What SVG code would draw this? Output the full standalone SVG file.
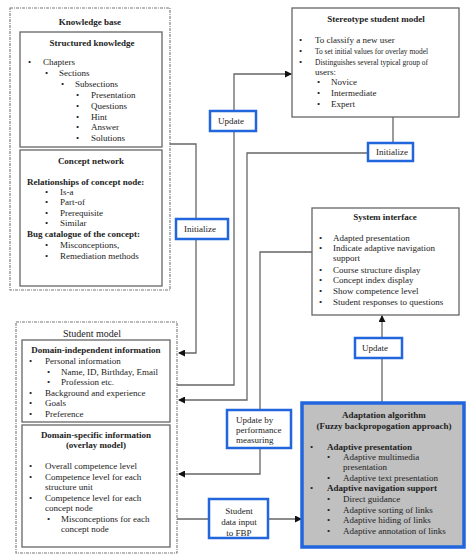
<svg xmlns="http://www.w3.org/2000/svg" width="474" height="557" viewBox="0 0 474 557">
<style>
text{font-family:"Liberation Serif","Times New Roman",serif;font-size:9px;fill:#222}
.b{font-weight:bold}
.c{text-anchor:middle}
.box{fill:#fff;stroke:#666;stroke-width:1.3}
.dash{fill:#fff;stroke:#777;stroke-width:1.1;stroke-dasharray:3 1 1 1}
.blue{fill:#fff;stroke:#2266dd;stroke-width:2.5}
.con{fill:none;stroke:#666;stroke-width:1.3}
</style>
<defs>
<marker id="ah" markerWidth="7" markerHeight="7" refX="6" refY="3.5" orient="auto" markerUnits="userSpaceOnUse">
<path d="M0,0 L7,3.5 L0,7 Z" fill="#111"/>
</marker>
</defs>

<g id="knowledge-base">
<rect class="dash" x="10" y="8" width="160" height="282"/>
<text class="b c" x="90" y="25">Knowledge base</text>
</g>
<g id="structured-knowledge">
<rect class="box" x="20" y="32" width="142" height="115"/>
<text class="b c" x="92" y="46">Structured knowledge</text>
<text x="28" y="65">•</text><text x="43" y="65">Chapters</text>
<text x="45" y="76">•</text><text x="59" y="76">Sections</text>
<text x="61" y="87">•</text><text x="75" y="87">Subsections</text>
<text x="76" y="98">•</text><text x="91" y="98">Presentation</text>
<text x="76" y="109">•</text><text x="91" y="109">Questions</text>
<text x="76" y="120">•</text><text x="91" y="120">Hint</text>
<text x="76" y="130">•</text><text x="91" y="130">Answer</text>
<text x="76" y="141">•</text><text x="91" y="141">Solutions</text>
</g>
<g id="concept-network">
<rect class="box" x="20" y="150" width="142" height="136"/>
<text class="b c" x="91" y="164">Concept network</text>
<text class="b" x="27" y="185">Relationships of concept node:</text>
<text x="45" y="195">•</text><text x="60" y="195">Is-a</text>
<text x="45" y="205">•</text><text x="60" y="205">Part-of</text>
<text x="45" y="216">•</text><text x="60" y="216">Prerequisite</text>
<text x="45" y="226">•</text><text x="60" y="226">Similar</text>
<text class="b" x="27" y="237">Bug catalogue of the concept:</text>
<text x="45" y="248">•</text><text x="60" y="248">Misconceptions,</text>
<text x="45" y="259">•</text><text x="60" y="259">Remediation methods</text>
</g>

<g id="stereotype-student-model">
<rect class="box" x="292" y="8" width="167" height="109"/>
<text class="b c" x="376" y="22">Stereotype student model</text>
<text x="299" y="43">•</text><text x="315" y="43">To classify a new user</text>
<text x="299" y="54">•</text><text x="315" y="54" textLength="113" lengthAdjust="spacingAndGlyphs">To set initial values for overlay model</text>
<text x="299" y="65">•</text><text x="315" y="65" textLength="113" lengthAdjust="spacingAndGlyphs">Distinguishes several typical group of</text>
<text x="315" y="75">users:</text>
<text x="317" y="85">•</text><text x="331" y="85">Novice</text>
<text x="317" y="96">•</text><text x="331" y="96">Intermediate</text>
<text x="317" y="107">•</text><text x="331" y="107">Expert</text>
</g>

<g id="system-interface">
<rect class="box" x="312" y="208" width="147" height="107"/>
<text class="b c" x="385" y="220">System interface</text>
<text x="319" y="241">•</text><text x="333" y="241">Adapted presentation</text>
<text x="319" y="251">•</text><text x="333" y="251">Indicate adaptive navigation</text>
<text x="333" y="261">support</text>
<text x="319" y="273">•</text><text x="333" y="273">Course structure display</text>
<text x="319" y="283">•</text><text x="333" y="283">Concept index display</text>
<text x="319" y="294">•</text><text x="333" y="294">Show competence level</text>
<text x="319" y="305">•</text><text x="333" y="305">Student responses to questions</text>
</g>

<g id="connectors">
<path class="con" d="M170,144 H196 V353 H179" marker-end="url(#ah)"/>
<path class="con" d="M170,385 H234 V74 H291" marker-end="url(#ah)"/>
<path class="con" d="M393,117 V153 H247 V400 H179" marker-end="url(#ah)"/>
<path class="con" d="M312,252 H260 V474 H179" marker-end="url(#ah)"/>
<path class="con" d="M382,403 V316" marker-end="url(#ah)"/>
<path class="con" d="M177,519 H301" marker-end="url(#ah)"/>
</g>

<g id="student-model">
<rect class="dash" x="16" y="322" width="161" height="231"/>
<text class="c" x="92" y="337" style="font-size:10px">Student model</text>
</g>
<g id="domain-independent">
<rect class="box" x="22" y="340" width="148" height="82"/>
<text class="b c" x="96" y="353">Domain-independent information</text>
<text x="29" y="364">•</text><text x="45" y="364">Personal information</text>
<text x="47" y="375">•</text><text x="61" y="375">Name, ID, Birthday, Email</text>
<text x="47" y="385">•</text><text x="61" y="385">Profession etc.</text>
<text x="29" y="396">•</text><text x="45" y="396">Background and experience</text>
<text x="29" y="406">•</text><text x="45" y="406">Goals</text>
<text x="29" y="417">•</text><text x="45" y="417">Preference</text>
</g>
<g id="domain-specific">
<rect class="box" x="22" y="425" width="148" height="122"/>
<text class="b c" x="96" y="438">Domain-specific information</text>
<text class="b c" x="96" y="448">(overlay model)</text>
<text x="29" y="469">•</text><text x="45" y="469">Overall competence level</text>
<text x="29" y="480">•</text><text x="45" y="480">Competence level for each</text>
<text x="45" y="490">structure unit</text>
<text x="29" y="501">•</text><text x="45" y="501">Competence level for each</text>
<text x="45" y="511">concept node</text>
<text x="47" y="522">•</text><text x="61" y="522">Misconceptions for each</text>
<text x="61" y="532">concept node</text>
</g>

<g id="adaptation-algorithm">
<rect x="302" y="403" width="162" height="144" fill="#c0c0c0" stroke="#2266dd" stroke-width="3.5"/>
<text class="b c" x="384" y="418">Adaptation algorithm</text>
<text class="b c" x="384" y="429">(Fuzzy backpropogation approach)</text>
<text x="310" y="450">•</text><text class="b" x="327" y="450">Adaptive presentation</text>
<text x="327" y="460">•</text><text x="343" y="460">Adaptive multimedia</text>
<text x="343" y="470">presentation</text>
<text x="327" y="481">•</text><text x="343" y="481">Adaptive text presentation</text>
<text x="310" y="491">•</text><text class="b" x="327" y="491">Adaptive navigation support</text>
<text x="327" y="502">•</text><text x="343" y="502">Direct guidance</text>
<text x="327" y="513">•</text><text x="343" y="513">Adaptive sorting of links</text>
<text x="327" y="523">•</text><text x="343" y="523">Adaptive hiding of links</text>
<text x="327" y="534">•</text><text x="343" y="534">Adaptive annotation of links</text>
</g>

<g id="label-update-top">
<rect class="blue" x="210" y="111" width="46" height="20"/>
<text x="218" y="124">Update</text>
</g>
<g id="label-initialize-right">
<rect class="blue" x="368" y="143" width="45" height="18"/>
<text x="376" y="155">Initialize</text>
</g>
<g id="label-initialize-left">
<rect class="blue" x="176" y="219" width="52" height="20"/>
<text x="184" y="232">Initialize</text>
</g>
<g id="label-update-lower">
<rect class="blue" x="355" y="338" width="47" height="20"/>
<text x="362" y="351">Update</text>
</g>
<g id="label-update-performance">
<rect class="blue" x="227" y="410" width="64" height="38"/>
<text x="236" y="423">Update by</text>
<text x="236" y="433">performance</text>
<text x="236" y="443">measuring</text>
</g>
<g id="label-student-data">
<rect class="blue" x="209" y="499" width="59" height="39"/>
<text class="c" x="239" y="514">Student</text>
<text class="c" x="239" y="525">data input</text>
<text class="c" x="239" y="536">to FBP</text>
</g>
</svg>
